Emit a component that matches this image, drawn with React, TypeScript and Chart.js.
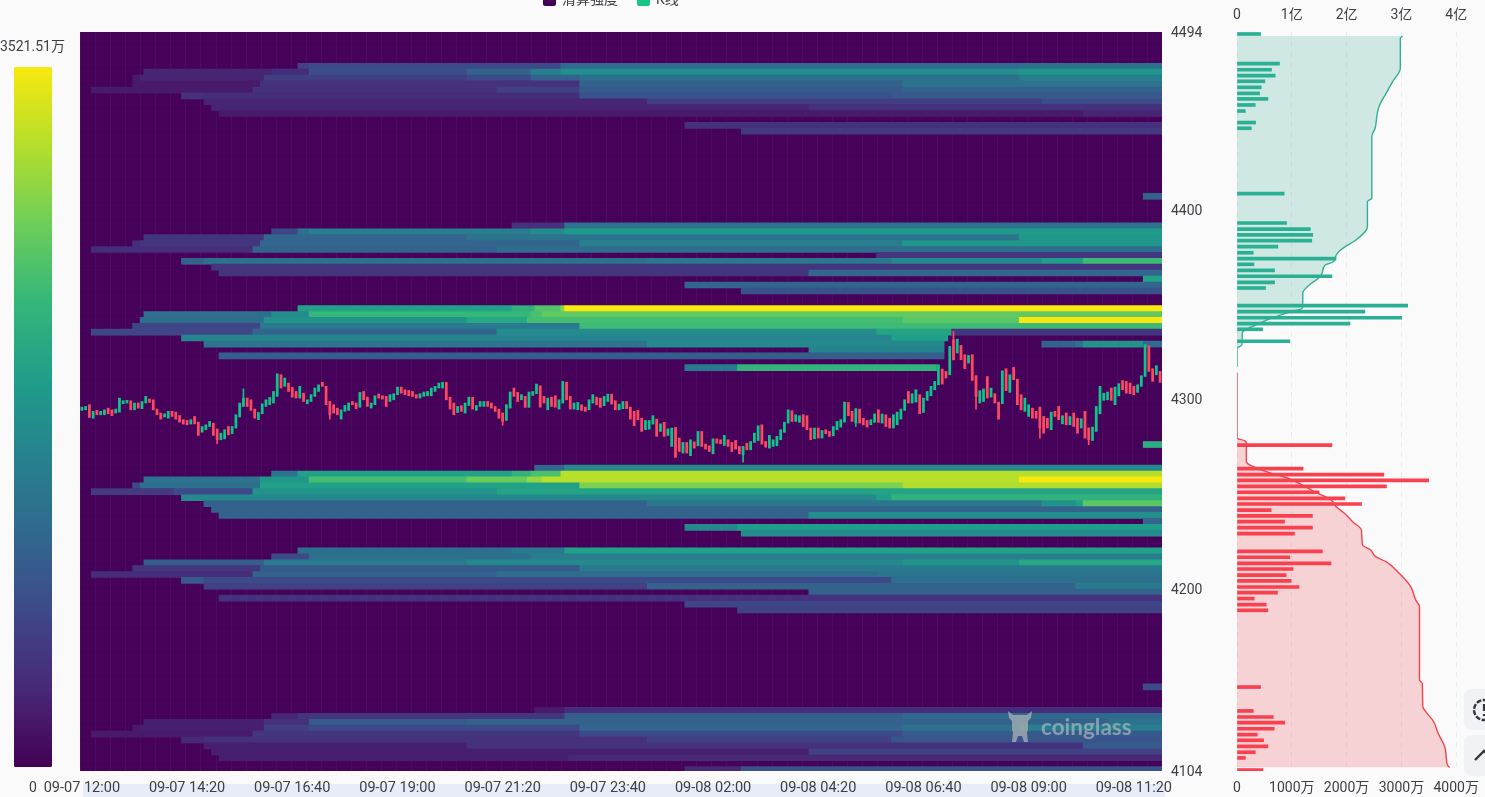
import React, { useEffect, useRef } from "react";
import { Chart, registerables } from "chart.js";

Chart.register(...registerables);

const FONT = 'Roboto, "Noto Sans CJK SC", sans-serif';
const TEXT = "#3c3f44";
const PRICE_MIN = 4104;
const PRICE_MAX = 4494;
const COLS = 288;
const HEAT_MAX = 3521.51;

const priceTicks = [4104, 4200, 4300, 4400, 4494];
const timeTickCols = [0, 28, 56, 84, 112, 140, 168, 196, 224, 252, 280];
const timeTickLabels = ["09-07 12:00", "09-07 14:20", "09-07 16:40", "09-07 19:00", "09-07 21:20", "09-07 23:40", "09-08 02:00", "09-08 04:20", "09-08 06:40", "09-08 09:00", "09-08 11:20"];
const viridis = ["#440154", "#482878", "#3e4989", "#31688e", "#26828e", "#1f9e89", "#35b779", "#6ece58", "#b5de2b", "#f8e80f"];

// Liquidation heat map: [price level, [start column, strength (万), start column, strength, ...]]
const heatA: [number, number[]][] = [
  [4475.9, [58, 700, 61, 800, 128, 1200, 250, 1300]],
  [4472.8, [17, 350, 51, 450, 61, 850, 103, 1100, 120, 1500, 128, 1750, 250, 1850]],
  [4469.7, [14, 250, 16, 350, 49, 650, 103, 800, 120, 1100, 133, 1300, 250, 1500]],
  [4466.6, [14, 250, 48, 500, 133, 1100, 219, 1350]],
  [4463.4, [3, 250, 46, 500, 111, 700, 133, 1000, 219, 1100]],
  [4460.3, [27, 500, 33, 450, 133, 900, 216, 1000]],
  [4457.2, [33, 350, 151, 650, 256, 800]],
  [4454.1, [35, 350, 194, 500]],
  [4451.0, [37, 250, 267, 350]],
  [4444.7, [161, 500]],
  [4441.6, [176, 600]],
  [4407.3, [283, 1100]],
];
const heatC: [number, number[]][] = [
  [4391.7, [115, 500, 129, 1350]],
  [4388.6, [51, 750, 58, 1300, 61, 1500, 120, 1700, 129, 1900]],
  [4385.5, [17, 550, 49, 1150, 103, 1350, 250, 1850]],
  [4382.3, [14, 450, 16, 550, 48, 1150, 133, 1500, 219, 1850]],
  [4379.2, [3, 450, 46, 1100, 111, 1250]],
  [4376.1, [212, 550]],
  [4373.0, [27, 1100, 33, 1300, 151, 1400, 216, 1650, 256, 1950, 267, 2400]],
  [4369.9, [35, 550]],
  [4366.8, [37, 550, 194, 1150]],
  [4363.6, [283, 2000]],
  [4360.5, [161, 1150]],
  [4357.4, [176, 900]],
];
const heatD: [number, number[]][] = [
  [4348.0, [58, 2000, 115, 2250, 121, 2550, 128, 2900, 129, 3521]],
  [4344.9, [17, 1300, 51, 1700, 61, 2350, 120, 2500, 123, 2650]],
  [4341.8, [16, 1250, 49, 1800, 103, 2100, 119, 2450, 219, 2600, 250, 3521]],
  [4338.7, [14, 750, 48, 1450, 133, 2400]],
  [4335.6, [3, 750, 25, 750, 46, 1150, 111, 1700, 212, 2050, 232, 550]],
  [4332.5, [27, 1600, 216, 1950, 231, 0]],
  [4329.3, [33, 1350, 151, 1650, 230, 0, 256, 1100, 265, 1300, 267, 1800, 283, 1200]],
  [4326.2, [194, 1600, 230, 0]],
  [4323.1, [37, 1050, 230, 0]],
  [4316.9, [161, 1450, 175, 2300, 228, 0]],
  [4276.3, [283, 2200]],
];
const heatF: [number, number[]][] = [
  [4263.8, [121, 1150, 129, 1650]],
  [4260.7, [51, 1350, 58, 2000, 115, 2250, 120, 2500, 128, 3150]],
  [4257.6, [17, 1350, 48, 1850, 61, 2450, 103, 2700, 119, 2950, 123, 3150, 250, 3521]],
  [4254.5, [14, 800, 16, 1300, 48, 2000, 133, 2800, 219, 3100]],
  [4251.4, [3, 600, 25, 800, 46, 1800, 111, 2050]],
  [4248.2, [27, 1650, 212, 1950, 216, 2250]],
  [4245.1, [33, 1100, 151, 1400, 256, 1800, 265, 2000, 267, 2600]],
  [4242.0, [35, 1100]],
  [4238.9, [37, 1100, 194, 1750]],
  [4235.8, [283, 1150]],
  [4232.6, [161, 1650, 175, 1950]],
  [4229.5, [176, 1700]],
];
const heatG: [number, number[]][] = [
  [4220.2, [58, 1300, 115, 1450, 129, 2000]],
  [4217.0, [51, 800, 61, 1300, 120, 1500]],
  [4213.9, [17, 1050, 49, 1450, 103, 1650, 219, 1800, 250, 2100]],
  [4210.8, [14, 550, 48, 1000, 133, 1450]],
  [4207.7, [3, 450, 46, 1100, 111, 1250, 212, 1350]],
  [4204.6, [27, 1000, 33, 800, 216, 1300]],
  [4201.5, [33, 700, 151, 1100, 265, 1450]],
  [4198.3, [194, 1100]],
  [4195.2, [37, 500]],
  [4192.1, [161, 750]],
  [4189.0, [175, 700]],
  [4148.4, [283, 800]],
];
const heatI: [number, number[]][] = [
  [4136.0, [121, 250, 129, 450]],
  [4132.8, [51, 350, 58, 550, 129, 1050, 219, 1200]],
  [4129.7, [17, 300, 49, 500, 61, 1000, 103, 1100, 274, 1350]],
  [4126.6, [14, 250, 16, 300, 49, 650, 61, 800, 133, 1150, 219, 1300, 250, 1500]],
  [4123.5, [3, 250, 46, 550, 133, 800, 219, 1000]],
  [4120.4, [27, 400, 33, 500, 151, 700, 216, 950]],
  [4117.3, [33, 300, 103, 500, 267, 1000]],
  [4114.1, [35, 300, 194, 700]],
  [4111.0, [37, 300, 130, 400]],
  [4104.8, [161, 400, 176, 900]],
];

// Candles, one per 5 minutes
const opens = [
  4294.3, 4294.6, 4297.3, 4290.2, 4294.3, 4292, 4292, 4295.5, 4294.6, 4292.9, 4293.4, 4297.8, 4298.2, 4299.4, 4294.6, 4298.2, 4295.2, 4298.2, 4300.3, 4299.9,
  4295, 4292.9, 4290.8, 4290.2, 4293.8, 4293.4, 4291.6, 4289.4, 4289, 4287.1, 4291.1, 4288.1, 4282.8, 4284.1, 4285.8, 4287.6, 4284.4, 4278.8, 4279.3, 4285.8,
  4282, 4285, 4290.8, 4296.4, 4300.8, 4299.9, 4295, 4289.4, 4292.5, 4296.4, 4297.3, 4298.2, 4301.7, 4313.1, 4307, 4308.7, 4306.4, 4304.3, 4300.8, 4303.4,
  4297.8, 4299, 4301.7, 4304.3, 4309.1, 4307, 4299, 4297.3, 4295.5, 4289.7, 4293.8, 4294.3, 4299, 4298.2, 4296, 4304.3, 4301.3, 4295.5, 4297.3, 4302.9,
  4302, 4301.7, 4299, 4299.9, 4302.6, 4306.6, 4305.2, 4304.8, 4304.3, 4302.6, 4300.8, 4301.7, 4302, 4302, 4304.3, 4306.1, 4306.1, 4309.1, 4301.3, 4298.2,
  4293.2, 4296.8, 4292.9, 4296.9, 4301.2, 4294.3, 4296.4, 4296.4, 4299, 4298.2, 4296.4, 4295, 4292.9, 4289, 4295.5, 4306.1, 4303.8, 4299.9, 4301.7, 4295.9,
  4302.2, 4303.1, 4307.3, 4301.7, 4294.6, 4301.3, 4302, 4295, 4298.2, 4309.1, 4301.7, 4295, 4294.6, 4297.3, 4296, 4294.6, 4298.2, 4301.3, 4300.8, 4296.8,
  4299, 4302.9, 4299.4, 4294.6, 4295.2, 4299, 4296, 4293.8, 4294.3, 4290.2, 4284.1, 4284.4, 4287.1, 4289.7, 4283.2, 4288, 4281.1, 4275.3, 4285.3, 4279.7,
  4271.8, 4277.4, 4270.4, 4277.7, 4275.6, 4283.2, 4276.5, 4275.6, 4271.4, 4279.3, 4278.8, 4275.8, 4278.8, 4277.4, 4278.4, 4275.3, 4270.9, 4277, 4273.5, 4277.4,
  4278.4, 4286.7, 4277.9, 4274.4, 4275.3, 4275.6, 4278.8, 4282.7, 4287.6, 4294.1, 4288.5, 4288, 4292, 4291.5, 4285, 4279.3, 4285, 4279.7, 4284.1, 4283.2,
  4280.9, 4284.1, 4285.5, 4288.1, 4298.5, 4293.8, 4287.6, 4295, 4290.2, 4289, 4286.7, 4288, 4294.6, 4287.6, 4292, 4290.2, 4285, 4286.7, 4289.7, 4294.3,
  4304.3, 4298.2, 4298.7, 4302.6, 4293.2, 4299.6, 4302, 4305.2, 4307.8, 4316.1, 4314.9, 4313.1, 4331.6, 4324.6, 4328.6, 4323.7, 4319.3, 4323.7, 4312.6, 4298.2,
  4299, 4312.2, 4301.3, 4303.1, 4298.7, 4297.8, 4316.3, 4303.8, 4317, 4310.8, 4302.6, 4293.8, 4291.1, 4295.5, 4293.8, 4296, 4291.1, 4290.2, 4284.1, 4293.8,
  4296.4, 4287.2, 4292.9, 4286.7, 4292.9, 4290.2, 4285, 4293.8, 4285, 4278.4, 4283.2, 4292.5, 4299.6, 4299.9, 4306.1, 4297.3, 4302, 4310, 4309.6, 4308.7,
  4307, 4303.8, 4307, 4312.2, 4328.4, 4316.3, 4313.1, 4314.9,
];
const closes = [
  4296, 4296.4, 4290.6, 4293.8, 4292, 4293.8, 4294.6, 4292.5, 4291.5, 4295, 4300.8, 4299.4, 4299.6, 4294.6, 4298.2, 4295.5, 4299, 4301.7, 4298.5, 4294.6,
  4292, 4289.7, 4292.5, 4293.8, 4291.1, 4289.7, 4288.1, 4287.1, 4286.7, 4289.4, 4287.2, 4281.1, 4285.8, 4286.7, 4288.5, 4281.1, 4278.8, 4282.3, 4284.1, 4281.4,
  4285.8, 4292, 4298.2, 4300.8, 4296.4, 4294.3, 4290.2, 4293.2, 4297.8, 4299.9, 4301.2, 4304.3, 4313.6, 4306.1, 4311.4, 4304.3, 4301.3, 4300.8, 4307, 4299,
  4299.9, 4302.6, 4306.1, 4307.8, 4307, 4297.3, 4292, 4292.9, 4292, 4294.6, 4296.9, 4298.2, 4297.3, 4295.2, 4303.8, 4299.9, 4296.4, 4298.2, 4302, 4300.8,
  4300.3, 4296.4, 4302.6, 4303.1, 4306.6, 4303.4, 4302.6, 4302, 4301.7, 4300.8, 4303.1, 4304, 4304.3, 4306.1, 4307, 4308.7, 4309.1, 4299.9, 4295, 4292,
  4296.4, 4293.8, 4298.2, 4301.3, 4295, 4296.9, 4299, 4299, 4296.4, 4295.5, 4293.8, 4290.2, 4288.5, 4297.3, 4304, 4301.7, 4299, 4302.6, 4295.9, 4304,
  4304.3, 4308.2, 4296, 4298.2, 4300.8, 4296.4, 4296, 4299.9, 4309.6, 4299.9, 4295, 4298.2, 4298.5, 4294.3, 4293.8, 4299.9, 4302.6, 4297.3, 4295.9, 4301.7,
  4302.9, 4297.6, 4294.6, 4297.6, 4299, 4295.2, 4289.7, 4286.2, 4289.4, 4283.2, 4289, 4289, 4291.5, 4280.6, 4287.2, 4280.6, 4284.6, 4285, 4269.6, 4272.6,
  4277.4, 4271.8, 4278.8, 4274.4, 4283.2, 4275.3, 4273.9, 4272.6, 4279.3, 4277, 4276.7, 4281.1, 4275.3, 4272.6, 4273.9, 4271.4, 4275.3, 4273.5, 4277.9, 4282.3,
  4286.2, 4276.5, 4274.9, 4281.1, 4278.8, 4280.6, 4284.1, 4288.1, 4294.6, 4288.5, 4292, 4291.5, 4285.8, 4284.1, 4278.8, 4285, 4279.7, 4283.7, 4282, 4280.6,
  4285.8, 4288.5, 4289.4, 4298.7, 4291.5, 4288.5, 4295.2, 4287.6, 4286.7, 4285.5, 4289.4, 4292.5, 4288, 4292.4, 4285.8, 4285, 4292, 4293.4, 4295, 4299.9,
  4298.2, 4303.1, 4305.2, 4292.5, 4300.8, 4304.3, 4307, 4309.6, 4318.4, 4308.2, 4311.4, 4328.1, 4321, 4331.9, 4321, 4316.3, 4323.3, 4310.1, 4301.7, 4304.7,
  4305.6, 4300.8, 4306.1, 4298.2, 4289.7, 4315.2, 4304.7, 4313.1, 4310.5, 4297.3, 4294.6, 4300.8, 4297.3, 4290.2, 4290.2, 4285, 4282.3, 4285, 4293.4, 4291.1,
  4289.4, 4291.5, 4286.7, 4291.1, 4285.8, 4282.3, 4289.9, 4279.7, 4278.8, 4285.5, 4296.4, 4307, 4303.4, 4304, 4299.6, 4306.6, 4308.4, 4305.2, 4303.4, 4303.1,
  4302.6, 4307.8, 4312.6, 4329, 4314.9, 4309.6, 4317.9, 4309.1,
];
// Candles with a visible wick: [candle index, low, high]
const wicks: [number, number, number][] = [
  [36, 4276.7, 4284.4], [43, 4296.4, 4305.7], [66, 4289.7, 4299], [112, 4286.4, 4292.9], [158, 4269.6, 4285.3], [176, 4267, 4275.3],
  [206, 4285.8, 4295.2], [232, 4321, 4336], [238, 4295, 4312.6], [255, 4279.7, 4296], [268, 4276.2, 4285],
];

// Order book depth: bars (万), cumulative lines (亿)
const askPrices = [4330.8, 4337.1, 4340.1, 4343.2, 4346.4, 4349.6, 4358.9, 4361.9, 4365.1, 4368.2, 4371.4, 4374.4, 4377.5, 4380.7, 4383.9, 4386.9, 4390, 4393.2, 4408.7, 4443.2, 4446.2, 4452.3, 4455.5, 4458.7, 4461.6, 4464.8, 4468, 4471, 4474.1, 4477.3, 4492.95];
const askVolumes = [964, 467, 2061, 3006, 2333, 3115, 521, 685, 1733, 685, 309, 1806, 297, 745, 1364, 1382, 1339, 903, 861, 261, 339, 152, 333, 564, 412, 442, 509, 697, 630, 776, 430];
const bidPrices = [4104.5, 4110.9, 4113.9, 4117, 4120.2, 4123.2, 4126.3, 4129.5, 4132.5, 4135.7, 4148.3, 4188.8, 4191.8, 4195, 4198.1, 4201.1, 4204.3, 4207.4, 4210.6, 4213.6, 4216.8, 4219.9, 4229.3, 4232.4, 4235.6, 4238.6, 4241.7, 4244.9, 4247.9, 4251.1, 4254.2, 4257.4, 4260.4, 4263.6, 4276];
const bidVolumes = [473, 152, 333, 564, 485, 370, 679, 873, 661, 297, 430, 564, 533, 315, 739, 1133, 988, 897, 1024, 1715, 964, 1558, 1048, 1376, 867, 1376, 624, 2273, 1970, 1497, 2727, 3497, 2679, 1206, 1733];
const askCumPrices = [4317.4, 4327.1, 4328.8, 4335, 4336.7, 4339.4, 4342.9, 4346.4, 4348.2, 4352.6, 4356.1, 4360.5, 4364.9, 4367.5, 4371, 4372.8, 4376.3, 4379.8, 4384.2, 4389.5, 4391.3, 4404.5, 4406.2, 4438.8, 4443.2, 4451.1, 4454.6, 4461.6, 4467.8, 4474.8, 4490.7, 4491.9];
const askCumValues = [0, 0, 0.09, 0.097, 0.14, 0.35, 0.62, 0.99, 1.19, 1.2, 1.2, 1.32, 1.52, 1.56, 1.61, 1.76, 1.81, 1.93, 2.17, 2.36, 2.38, 2.38, 2.46, 2.46, 2.52, 2.56, 2.59, 2.72, 2.84, 2.98, 2.98, 3.02];
const bidCumPrices = [4105.8, 4107.2, 4110.7, 4116.9, 4123.9, 4130, 4134.4, 4138, 4150.3, 4152, 4190.7, 4194.3, 4201.3, 4208.3, 4214.5, 4217.1, 4220.6, 4223.3, 4231.2, 4235.6, 4240, 4243.5, 4247, 4251.4, 4255.8, 4258.5, 4262, 4265.5, 4267.3, 4277.3, 4278.3, 4279.6, 4314.2];
const bidCumValues = [3.88, 3.84, 3.82, 3.79, 3.67, 3.59, 3.47, 3.39, 3.38, 3.33, 3.33, 3.26, 3.17, 2.96, 2.72, 2.53, 2.44, 2.29, 2.27, 2.11, 1.96, 1.81, 1.72, 1.41, 1.14, 0.93, 0.53, 0.23, 0.17, 0.17, 0.14, 0, 0];
const cumTicks = [0, 1, 2, 3, 4];
const cumTickLabels = ["0", "1亿", "2亿", "3亿", "4亿"];
const volTicks = [0, 1000, 2000, 3000, 4000];
const volTickLabels = ["0", "1000万", "2000万", "3000万", "4000万"];

function hexToRgb(h: string) {
  return [1, 3, 5].map((i) => parseInt(h.slice(i, i + 2), 16));
}
function heatColor(v: number) {
  const t = Math.min(1, v / HEAT_MAX) * (viridis.length - 1);
  const i = Math.min(viridis.length - 2, Math.floor(t));
  const a = hexToRgb(viridis[i]);
  const b = hexToRgb(viridis[i + 1]);
  const f = t - i;
  return `rgb(${a.map((c, k) => Math.round(c + (b[k] - c) * f)).join(",")})`;
}

const heatCells: { x: [number, number]; y: number }[] = [];
const heatCellColors: string[] = [];
[...heatA, ...heatC, ...heatD, ...heatF, ...heatG, ...heatI].forEach(([price, runs]) => {
  for (let k = 0; k < runs.length; k += 2) {
    if (runs[k + 1] <= 0) continue;
    heatCells.push({ x: [runs[k], k + 2 < runs.length ? runs[k + 2] : COLS], y: price });
    heatCellColors.push(heatColor(runs[k + 1]));
  }
});

const plotBg = {
  id: "plotBg",
  beforeDraw(chart: any) {
    const { ctx, chartArea: a } = chart;
    ctx.save();
    ctx.fillStyle = "#46025a";
    ctx.fillRect(a.left, a.top, a.width, a.height);
    ctx.restore();
  },
};

const tickFont = { family: FONT, size: 14 };

function heatConfig(): any {
  const timeTicks = timeTickCols.map((c) => c + 0.5);
  const gridCols: number[] = [];
  for (let c = 0.2; c < COLS; c += 4) gridCols.push(c);
  const gridRows: number[] = [];
  for (let r = PRICE_MIN + 1.9; r < PRICE_MAX; r += 3.119) gridRows.push(r);
  return {
    type: "bar",
    data: {
      datasets: [
        {
          label: "清算强度",
          data: heatCells,
          backgroundColor: heatCellColors,
          barThickness: 6,
          borderWidth: 0,
          borderSkipped: false,
        },
      ],
    },
    plugins: [plotBg],
    options: {
      indexAxis: "y",
      responsive: false,
      animation: false,
      events: [],
      layout: { padding: { left: 80, top: 32, right: 0, bottom: 0 } },
      plugins: { legend: { display: false }, tooltip: { enabled: false } },
      scales: {
        x: {
          type: "linear",
          min: 0,
          max: COLS,
          offset: false,
          position: "bottom",
          afterBuildTicks(s: any) {
            s.ticks = [...gridCols, ...timeTicks].sort((a, b) => a - b).map((value) => ({ value }));
          },
          afterFit(s: any) {
            s.height = 26;
          },
          border: { display: false },
          grid: {
            offset: false,
            drawTicks: false,
            color: (c: any) => (timeTicks.includes(c.tick?.value) ? "transparent" : "rgba(255,255,255,0.04)"),
          },
          ticks: {
            autoSkip: false,
            maxRotation: 0,
            padding: 9,
            color: TEXT,
            font: { ...tickFont, size: 14.5 },
            callback: (v: number) => {
              const i = timeTicks.indexOf(v);
              return i >= 0 ? timeTickLabels[i] : "";
            },
          },
        },
        y: {
          type: "linear",
          min: PRICE_MIN,
          max: PRICE_MAX,
          offset: false,
          position: "right",
          afterBuildTicks(s: any) {
            s.ticks = [...gridRows, ...priceTicks].sort((a, b) => a - b).map((value) => ({ value }));
          },
          afterFit(s: any) {
            s.width = 58;
          },
          border: { display: false },
          grid: {
            offset: false,
            drawTicks: false,
            color: (c: any) => (priceTicks.includes(c.tick?.value) ? "transparent" : "rgba(255,255,255,0.012)"),
          },
          ticks: {
            autoSkip: false,
            padding: 9,
            labelOffset: 1,
            color: TEXT,
            font: tickFont,
            callback: (v: number) => (priceTicks.includes(v) ? String(v) : ""),
          },
        },
      },
    },
  };
}

function candleConfig(): any {
  const up = "#0fc48a";
  const down = "#fb4a5f";
  const colors = opens.map((o, i) => (closes[i] >= o ? up : down));
  return {
    type: "bar",
    data: {
      datasets: [
        {
          label: "K线",
          data: opens.map((o, i) => ({ x: i + 0.5, y: [o, closes[i]] })),
          backgroundColor: colors,
          barThickness: 2.1,
          borderWidth: 0,
          grouped: false,
        },
        {
          label: "wick",
          data: wicks.map(([i, lo, hi]) => ({ x: i + 0.5, y: [lo, hi] })),
          backgroundColor: wicks.map(([i]) => colors[i]),
          barThickness: 1,
          borderWidth: 0,
          grouped: false,
        },
      ],
    },
    options: {
      responsive: false,
      animation: false,
      events: [],
      plugins: { legend: { display: false }, tooltip: { enabled: false } },
      scales: {
        x: { type: "linear", display: false, min: 0, max: COLS, offset: false, grid: { offset: false } },
        y: { type: "linear", display: false, min: PRICE_MIN, max: PRICE_MAX },
      },
    },
  };
}

function colorbarConfig(): any {
  return {
    type: "bar",
    data: {
      labels: ["强度"],
      datasets: [
        {
          data: [[0, HEAT_MAX]],
          barPercentage: 1,
          categoryPercentage: 1,
          borderRadius: 3,
          borderSkipped: false,
          backgroundColor(c: any) {
            const { ctx, chartArea } = c.chart;
            if (!chartArea) return viridis[0];
            const g = ctx.createLinearGradient(0, chartArea.bottom, 0, chartArea.top);
            viridis.forEach((col, i) => g.addColorStop(i / (viridis.length - 1), col));
            return g;
          },
        },
      ],
    },
    options: {
      responsive: false,
      animation: false,
      events: [],
      plugins: { legend: { display: false }, tooltip: { enabled: false } },
      scales: {
        x: { display: false },
        y: { display: false, min: 0, max: HEAT_MAX },
      },
    },
  };
}

function depthConfig(): any {
  const green = "#2bb094";
  const red = "#f8414f";
  const XMAX_VOL = 5438;
  const line = (px: number[], vals: number[], color: string, fill: string, order: number) => ({
    type: "line",
    xAxisID: "xCum",
    yAxisID: "y",
    data: px.map((y, i) => ({ y, x: vals[i] })),
    borderColor: color,
    borderWidth: 1.4,
    pointRadius: 0,
    cubicInterpolationMode: "monotone",
    fill: "origin",
    backgroundColor: fill,
    order,
  });
  const bars = (px: number[], vals: number[], color: string, order: number) => ({
    type: "bar",
    xAxisID: "xVol",
    yAxisID: "y",
    data: px.map((y, i) => ({ y, x: vals[i] })),
    backgroundColor: color,
    barThickness: 3,
    borderWidth: 0,
    grouped: false,
    order,
  });
  return {
    type: "bar",
    data: {
      datasets: [
        bars(askPrices, askVolumes, green, 1),
        bars(bidPrices, bidVolumes, red, 1),
        line(askCumPrices, askCumValues, "#35ad95", "rgba(33,160,135,0.2)", 2),
        line(bidCumPrices, bidCumValues, "#f3454f", "rgba(232,70,80,0.22)", 2),
      ],
    },
    options: {
      indexAxis: "y",
      responsive: false,
      animation: false,
      events: [],
      layout: { padding: { left: 47, right: 0, top: 0, bottom: 0 } },
      plugins: { legend: { display: false }, tooltip: { enabled: false } },
      scales: {
        xCum: {
          axis: "x",
          type: "linear",
          position: "top",
          min: 0,
          max: XMAX_VOL / 1000,
          offset: false,
          afterBuildTicks(s: any) {
            s.ticks = cumTicks.map((value) => ({ value }));
          },
          afterFit(s: any) {
            s.height = 32;
          },
          border: { display: false },
          grid: { display: false, drawTicks: false },
          ticks: {
            autoSkip: false,
            maxRotation: 0,
            padding: 8,
            color: TEXT,
            font: tickFont,
            callback: (v: number) => cumTickLabels[cumTicks.indexOf(v)],
          },
        },
        xVol: {
          axis: "x",
          type: "linear",
          position: "bottom",
          min: 0,
          max: XMAX_VOL,
          offset: false,
          afterBuildTicks(s: any) {
            s.ticks = volTicks.map((value) => ({ value }));
          },
          afterFit(s: any) {
            s.height = 26;
          },
          border: { display: false, dash: [5, 5] },
          grid: { drawTicks: false, color: "#e9ebee", lineWidth: 1 },
          ticks: {
            autoSkip: false,
            maxRotation: 0,
            padding: 9,
            color: TEXT,
            font: tickFont,
            callback: (v: number) => volTickLabels[volTicks.indexOf(v)],
          },
        },
        y: { type: "linear", display: false, min: PRICE_MIN, max: PRICE_MAX, offset: false, grid: { display: false } },
      },
    },
  };
}

function ChartCanvas({ left, top, width, height, make }: { left: number; top: number; width: number; height: number; make: () => any }) {
  const ref = useRef<HTMLCanvasElement>(null);
  useEffect(() => {
    const chart = new Chart(ref.current as HTMLCanvasElement, make());
    return () => chart.destroy();
  }, []);
  return <canvas ref={ref} width={width} height={height} style={{ position: "absolute", left, top, width, height, display: "block" }} />;
}

function Label({ left, top, children, style }: any) {
  return <div style={{ position: "absolute", left, top, font: `14px ${FONT}`, color: TEXT, whiteSpace: "nowrap", ...style }}>{children}</div>;
}

export default function App() {
  return (
    <div style={{ position: "fixed", left: 0, top: 0, width: 1485, height: 797, overflow: "hidden", background: "#fafafa" }}>
      <div style={{ position: "absolute", left: 83, top: 784, width: 1082, height: 13, background: "#e8ebf8" }} />
      <ChartCanvas left={0} top={0} width={1220} height={797} make={heatConfig} />
      <ChartCanvas left={80} top={32} width={1082} height={739} make={candleConfig} />
      <ChartCanvas left={14} top={67} width={38} height={700} make={colorbarConfig} />
      <ChartCanvas left={1190} top={0} width={345} height={797} make={depthConfig} />

      <Label left={0} top={35}>3521.51万</Label>
      <Label left={29} top={779}>0</Label>

      <div style={{ position: "absolute", left: 543, top: -7, width: 13, height: 13, background: "#440154", borderRadius: 2 }} />
      <Label left={562} top={-12}>清算强度</Label>
      <div style={{ position: "absolute", left: 637, top: -7, width: 13, height: 13, background: "#16c784", borderRadius: 2 }} />
      <Label left={656} top={-12}>K线</Label>

      <svg style={{ position: "absolute", left: 1006, top: 709, width: 28, height: 35 }} viewBox="0 0 28 35">
        <path d="M2 2 L7 6 H21 L26 2 L25 9 L22 12 V20 L21 24 L22 33 H18 L16 27 H12 L10 33 H6 L7 24 L6 20 V12 L3 9 Z" fill="rgba(176,180,182,0.72)" />
      </svg>
      <div style={{ position: "absolute", left: 1041, top: 713, font: `700 22.5px Lato, ${FONT}`, color: "rgba(190,196,198,0.6)" }}>coinglass</div>

      <div style={{ position: "absolute", left: 1464, top: 689, width: 40, height: 41, background: "#f1f2f6", borderRadius: 8 }}>
        <svg width="32" height="32" style={{ position: "absolute", left: 4, top: 5 }} viewBox="0 0 32 32">
          <circle cx="16" cy="16" r="10" fill="none" stroke="#33373c" strokeWidth="2.4" strokeDasharray="5 1.5" />
          <path d="M16 10 V17 M16 20 V22" stroke="#33373c" strokeWidth="2.2" />
        </svg>
      </div>
      <div style={{ position: "absolute", left: 1464, top: 735, width: 40, height: 41, background: "#f1f2f6", borderRadius: 8 }}>
        <svg width="32" height="32" style={{ position: "absolute", left: 4, top: 5 }} viewBox="0 0 32 32">
          <path d="M7 20 L16 11 L25 20" fill="none" stroke="#33373c" strokeWidth="2.4" />
        </svg>
      </div>
    </div>
  );
}
